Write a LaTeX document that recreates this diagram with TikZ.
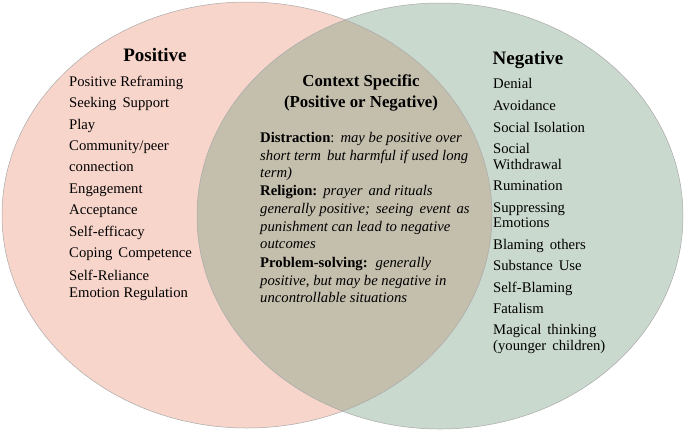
\documentclass[tikz,border=0pt]{standalone}
\usepackage{fontspec}
\setmainfont{Liberation Serif}
\definecolor{posfill}{RGB}{248,213,203}
\definecolor{negfill}{RGB}{202,217,206}
\definecolor{ctxfill}{RGB}{196,190,172}
\definecolor{edgegray}{RGB}{170,170,170}
\newcommand{\xsp}{\hspace{6pt}}
\begin{document}
\begin{tikzpicture}[x=1pt,y=-1pt,
  item/.style={anchor=base west, inner sep=0pt, font=\fontsize{14.7}{17}\selectfont},
  ttl/.style={anchor=base, inner sep=0pt, font=\fontsize{19}{22}\selectfont\bfseries},
  ctl/.style={anchor=base, inner sep=0pt, font=\fontsize{16.8}{20}\selectfont\bfseries},
  body/.style={anchor=base west, inner sep=0pt, font=\fontsize{14.7}{17}\selectfont}]
\useasboundingbox (0,0) rectangle (685,431);
% ellipses
\fill[posfill] (247,215) ellipse [x radius=245, y radius=213];
\fill[negfill] (440,216) ellipse [x radius=243, y radius=213];
\begin{scope}
  \clip (247,215) ellipse [x radius=245, y radius=213];
  \fill[ctxfill] (440,216) ellipse [x radius=243, y radius=213];
\end{scope}
\draw[edgegray, line width=0.5pt] (247,215) ellipse [x radius=245, y radius=213];
\draw[edgegray, line width=0.5pt] (440,216) ellipse [x radius=243, y radius=213];
% Positive
\node[ttl] (ptitle) at (155,61) {Positive};
\node[item] (p1) at (69,86) {Positive Reframing};
\node[item] (p2) at (69,107.5) {Seeking\xsp Support};
\node[item] (p3) at (69,129) {Play};
\node[item] (p4) at (69,150) {Community/peer};
\node[item] (p5) at (69,171.5) {connection};
\node[item] (p6) at (69,193) {Engagement};
\node[item] (p7) at (69,214.5) {Acceptance};
\node[item] (p8) at (69,236) {Self-efficacy};
\node[item] (p9) at (69,257.5) {Coping\xsp Competence};
\node[item] (p10) at (69,280.5) {Self-Reliance};
\node[item] (p11) at (69,297.5) {Emotion Regulation};
% Negative
\node[ttl] (ntitle) at (528,64) {Negative};
\node[item] (n1) at (493,88) {Denial};
\node[item] (n2) at (493,110) {Avoidance};
\node[item] (n3) at (493,132) {Social Isolation};
\node[item] (n4) at (493,153) {Social};
\node[item] (n5) at (493,169) {Withdrawal};
\node[item] (n6) at (493,190) {Rumination};
\node[item] (n7) at (493,212) {Suppressing};
\node[item] (n8) at (493,227) {Emotions};
\node[item] (n9) at (493,249) {Blaming\xsp others};
\node[item] (n10) at (493,270) {Substance\xsp Use};
\node[item] (n11) at (493,292) {Self-Blaming};
\node[item] (n12) at (493,313) {Fatalism};
\node[item] (n13) at (493,334) {Magical\xsp thinking};
\node[item] (n14) at (493,350) {(younger\xsp children)};
% Context
\node[ctl] (ctitle1) at (361,86) {Context Specific};
\node[ctl] (ctitle2) at (361,107) {(Positive or Negative)};
\node[body] (c1) at (260,142) {\textbf{Distraction}:\xsp\textit{may be positive over}};
\node[body] (c2) at (260,160) {\textit{short term\xsp but harmful if used long}};
\node[body] (c3) at (260,177) {\textit{term)}};
\node[body] (c4) at (260,195) {\textbf{Religion:}\xsp\textit{prayer\xsp and rituals}};
\node[body] (c5) at (260,213) {\textit{generally positive;\xsp seeing\xsp event\xsp as}};
\node[body] (c6) at (260,231) {\textit{punishment can lead to negative}};
\node[body] (c7) at (260,248) {\textit{outcomes}};
\node[body] (c8) at (260,267) {\textbf{Problem-solving:}\hspace{8pt}\textit{generally}};
\node[body] (c9) at (260,285) {\textit{positive, but may be negative in}};
\node[body] (c10) at (260,302) {\textit{uncontrollable situations}};
\end{tikzpicture}
\end{document}
